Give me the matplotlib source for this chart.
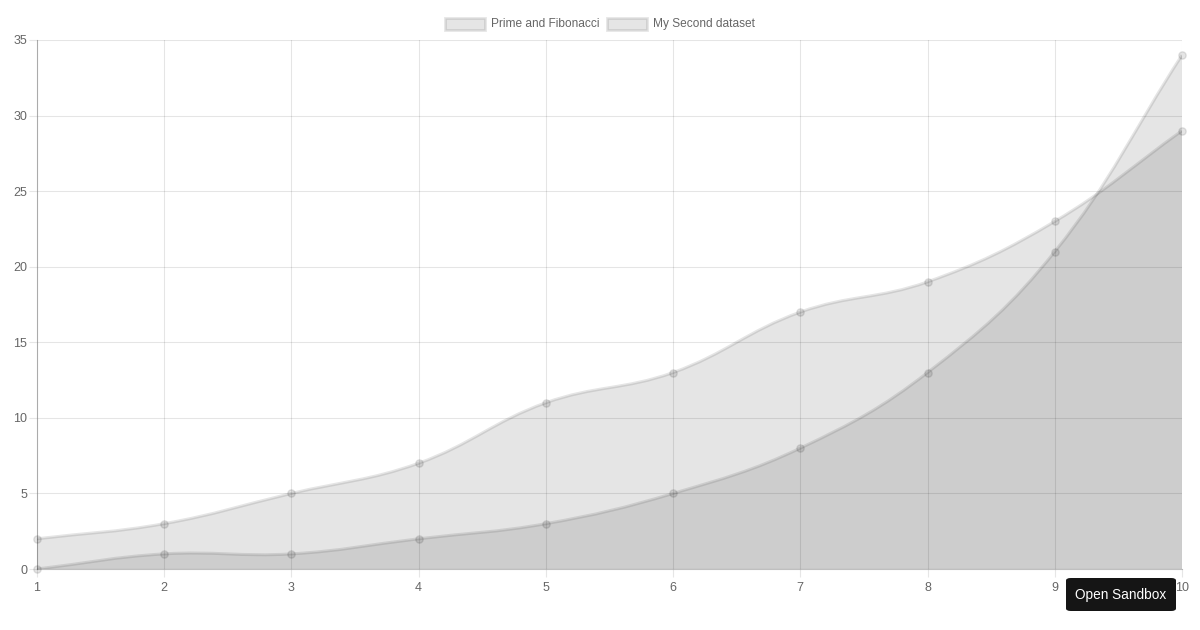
import numpy as np
import matplotlib
matplotlib.use("Agg")
import matplotlib.pyplot as plt
from matplotlib.path import Path
from matplotlib.patches import PathPatch, FancyBboxPatch, Rectangle

plt.rcParams['font.family'] = ['Liberation Sans', 'DejaVu Sans']

labels = ['1', '2', '3', '4', '5', '6', '7', '8', '9', '10']
prime_values = [2, 3, 5, 7, 11, 13, 17, 19, 23, 29]
fib_values = [0, 1, 1, 2, 3, 5, 8, 13, 21, 34]
series_names = ['Prime and Fibonacci', 'My Second dataset']
y_ticks = [0, 5, 10, 15, 20, 25, 30, 35]

FILL = (0, 0, 0, 0.1)
LINE = (0, 0, 0, 0.1)
TICK_COL = '#666666'
TENSION = 0.4


def spline_path(ax, xs, ys):
    # chart.js style bezier through points, computed in pixel space
    pts = ax.transData.transform(np.column_stack([xs, ys]))
    n = len(pts)
    verts = [pts[0]]
    codes = [Path.MOVETO]
    cps = []
    for i in range(n):
        prev = pts[max(i - 1, 0)]
        cur = pts[i]
        nxt = pts[min(i + 1, n - 1)]
        d01 = np.hypot(*(cur - prev))
        d12 = np.hypot(*(nxt - cur))
        tot = d01 + d12
        s01 = d01 / tot if tot else 0
        s12 = d12 / tot if tot else 0
        fa = TENSION * s01
        fb = TENSION * s12
        cps.append((cur - fa * (nxt - prev), cur + fb * (nxt - prev)))
    for i in range(1, n):
        verts += [cps[i - 1][1], cps[i][0], pts[i]]
        codes += [Path.CURVE4] * 3
    inv = ax.transData.inverted()
    return inv.transform(np.array(verts)), codes


fig = plt.figure(figsize=(12, 6.3), dpi=100)
ax = fig.add_axes([37 / 1200, 61 / 630, 1145 / 1200, 529 / 630])
x = np.arange(1, len(labels) + 1)
ax.set_xlim(1, 10)
ax.set_ylim(0, 35)

for vals in (fib_values, prime_values):
    verts, codes = spline_path(ax, x, vals)
    # filled area down to zero
    fv = np.vstack([verts, [[x[-1], 0], [x[0], 0], verts[0]]])
    fc = codes + [Path.LINETO, Path.LINETO, Path.CLOSEPOLY]
    ax.add_patch(PathPatch(Path(fv, fc), facecolor=FILL, edgecolor='none', zorder=2))
    ax.add_patch(PathPatch(Path(verts, codes), facecolor='none', edgecolor=LINE,
                           lw=2.2, capstyle='butt', zorder=3))
    ax.scatter(x, vals, s=28, facecolor=FILL, edgecolor=LINE, linewidth=1,
               zorder=4, clip_on=False)

ax.set_xticks(x)
ax.set_xticklabels(labels)
ax.set_yticks(y_ticks)
ax.grid(True, color='black', alpha=0.1, lw=0.8)
ax.set_axisbelow(True)
for s in ('top', 'right'):
    ax.spines[s].set_visible(False)
ax.spines['left'].set_color((0, 0, 0, 0.25))
ax.spines['bottom'].set_color((0, 0, 0, 0.25))
ax.spines['left'].set_linewidth(0.8)
ax.spines['bottom'].set_linewidth(0.8)
ax.tick_params(axis='both', length=5.5, width=0.8, color='#e6e6e6', labelcolor=TICK_COL,
               labelsize=9)
ax.tick_params(axis='x', pad=4)
ax.tick_params(axis='y', pad=1.5)

# legend drawn like chart.js boxes
box_x = [445, 607]
for bx, name in zip(box_x, series_names):
    fig.patches.append(Rectangle((bx / 1200, 1 - 30 / 630), 40 / 1200, 12 / 630,
                                 transform=fig.transFigure, facecolor=FILL,
                                 edgecolor=LINE, lw=2))
    fig.text((bx + 46) / 1200, 1 - 24 / 630, name, fontsize=8.6, color=TICK_COL,
             va='center', ha='left')

# "Open Sandbox" overlay button
fig.patches.append(FancyBboxPatch((1066 / 1200, 1 - 611 / 630), 110 / 1200, 33 / 630,
                                  boxstyle='round,pad=0,rounding_size=0.004',
                                  transform=fig.transFigure, facecolor='#151515',
                                  edgecolor='none', zorder=10))
fig.text(1121 / 1200, 1 - 594.5 / 630, 'Open Sandbox', fontsize=9.8, color='white',
         ha='center', va='center', zorder=11)

fig.savefig('out.png', dpi=100)
